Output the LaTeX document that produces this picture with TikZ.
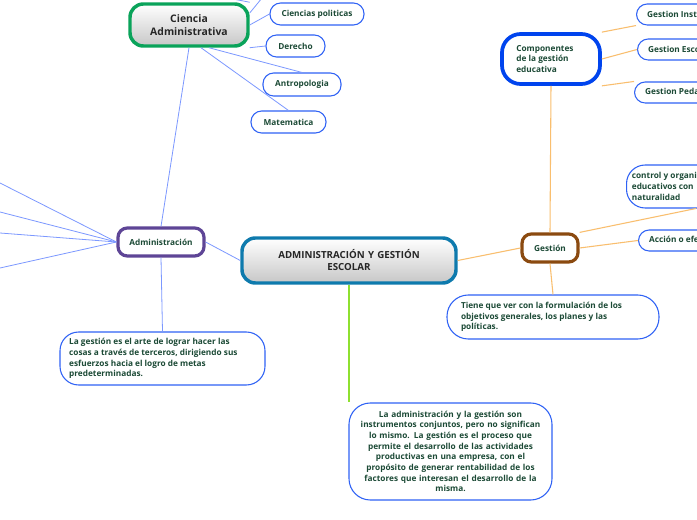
\documentclass[tikz,border=0pt]{standalone}
\usepackage{fontspec}
\setmainfont{Open Sans}
\hyphenpenalty=10000
\usetikzlibrary{shadings}
\definecolor{txt}{HTML}{1C4A36}
\definecolor{leafb}{HTML}{2F62F5}
\definecolor{lblue}{HTML}{7C98FF}
\definecolor{lor}{HTML}{F9BE6E}
\definecolor{lgr}{HTML}{8EE030}
\begin{document}
\begin{tikzpicture}[x=0.75pt,y=-0.75pt,
  lbl/.style={font=\fontsize{6.2}{8}\selectfont\bfseries,text=txt},
  leaf/.style={lbl,draw=leafb,line width=0.8pt,rounded corners=8pt,fill=white,inner sep=2pt},
  bigbox/.style={draw,line width=2.6pt,rounded corners=10pt,top color=white,bottom color=black!22,font=\fontsize{7.3}{9}\selectfont\bfseries,text=black!85,align=center},
  mid/.style={lbl,draw,line width=2.4pt,rounded corners=7pt,fill=white},
  bl/.style={lblue,line width=0.6pt},
  ol/.style={lor,line width=0.8pt}]
\useasboundingbox (0,0) rectangle (697,520);
\clip (0,0) rectangle (697,520);
\fill[white] (0,0) rectangle (697,520);
% nodes
\node[bigbox,draw={rgb,255:red,14;green,122;blue,173},minimum width=214*0.75pt,minimum height=45*0.75pt,text width=150pt] (c) at (349,260.5) {ADMINISTRACIÓN Y GESTIÓN\\ESCOLAR};
\node[bigbox,draw={rgb,255:red,10;green,163;blue,90},minimum width=118*0.75pt,minimum height=42*0.75pt,font=\fontsize{7.8}{10}\selectfont\bfseries] (ca) at (189,25) {Ciencia\\Administrativa};
\node[leaf,minimum width=94*0.75pt,minimum height=22*0.75pt] (cp) at (317,14) {Ciencias politicas};
\node[leaf,minimum width=59*0.75pt,minimum height=22*0.75pt] (de) at (295.5,46) {Derecho};
\node[leaf,minimum width=78*0.75pt,minimum height=23*0.75pt] (an) at (302,84.5) {Antropologia};
\node[leaf,minimum width=75*0.75pt,minimum height=22*0.75pt] (ma) at (288.5,122) {Matematica};
\node[mid,draw={rgb,255:red,94;green,69;blue,150},minimum width=86*0.75pt,minimum height=28*0.75pt] (ad) at (161,242) {Administración};
\node[leaf,rounded corners=14pt,minimum width=205*0.75pt,minimum height=53*0.75pt,text width=140pt,align=flush left] (t1) at (162.5,358.5) {La gestión es el arte de lograr hacer las\\cosas a través de terceros, dirigiendo sus\\esfuerzos hacia el logro de metas\\predeterminadas.};
\node[leaf,rounded corners=16pt,minimum width=203*0.75pt,minimum height=97*0.75pt,text width=140pt,align=center] (t2) at (450.5,451.5) {La administración y la gestión son\\instrumentos conjuntos, pero no significan\\lo mismo. La gestión es el proceso que\\permite el desarrollo de las actividades\\productivas en una empresa, con el\\propósito de generar rentabilidad de los\\factores que interesan el desarrollo de la\\misma.};
\node[mid,draw={rgb,255:red,139;green,74;blue,16},minimum width=56*0.75pt,minimum height=28*0.75pt] (ge) at (550,248) {Gestión};
\node[mid,draw={rgb,255:red,0;green,68;blue,238},rounded corners=14pt,line width=2.8pt,minimum width=98*0.75pt,minimum height=50*0.75pt,text width=52pt,align=flush left] (co) at (551,59) {Componentes\\de la gestión\\educativa};
\node[leaf,rounded corners=16pt,minimum width=212*0.75pt,minimum height=44*0.75pt,text width=138pt,align=flush left] (t3) at (553,317) {Tiene que ver con la formulación de los\\objetivos generales, los planes y las\\políticas.};
\node[leaf,anchor=west,minimum height=21*0.75pt] (g1) at (636,14.5) {\hspace*{6pt}Gestion Institucional};
\node[leaf,anchor=west,minimum height=21*0.75pt] (g2) at (637,49.5) {\hspace*{6pt}Gestion Escolar};
\node[leaf,anchor=west,minimum height=21*0.75pt] (g3) at (634,92.5) {\hspace*{6pt}Gestion Pedagógica};
\node[leaf,anchor=west,rounded corners=14pt,minimum height=43*0.75pt,text width=100pt,align=flush left] (ct) at (626,186.5) {\hspace*{2pt}control y organización de\\\hspace*{2pt}educativos con\\\hspace*{2pt}naturalidad};
\node[leaf,anchor=west,minimum height=21*0.75pt] (ac) at (638,240.5) {\hspace*{6pt}Acción o efecto de gestionar};
\coordinate (o1) at (0,183); \coordinate (o2) at (0,212); \coordinate (o3) at (0,233); \coordinate (o4) at (0,268);
\coordinate (u1) at (228,-2); \coordinate (u2) at (262,-2);
% connectors
\draw[bl] (c.west) -- (ad.east);
\draw[bl] (ad.north) -- (ca.south);
\draw[bl] (ad.south) -- (t1.north);
\foreach \o in {o1,o2,o3,o4} \draw[bl] (ad.west) -- (\o);
\draw[bl] (ca.north east) -- (u1); \draw[bl] (ca.east) ++(0,-12) -- (u2);
\draw[bl] (ca.east) -- (cp.west);
\draw[bl] (ca.south east) -- (de.west);
\draw[bl] (ca.south) ++(20,0) -- (an.north);
\draw[bl] (ca.south) ++(12,0) -- (ma.north);
\draw[lgr,line width=0.8pt] (c.south) -- (c.south |- t2.north);
\draw[ol] (c.east) -- (ge.west);
\draw[ol] (ge.north) -- (co.south);
\draw[ol] (ge.south) -- (t3.north);
\draw[ol] (ge.east) -- (ac.west);
\draw[ol] (ge.north east) -- (ct.south);
\draw[ol] (co.north east) -- (g1.south west);
\draw[ol] (co.east) -- (g2.west);
\draw[ol] (co.south east) -- (g3.north west);
\end{tikzpicture}
\end{document}
